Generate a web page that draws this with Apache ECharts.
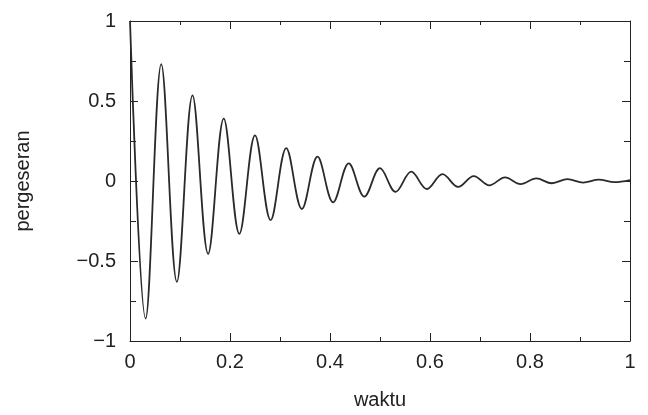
<!DOCTYPE html>
<html>
<head>
<meta charset="utf-8">
<script src="https://cdn.jsdelivr.net/npm/echarts@6/dist/echarts.min.js"></script>
<style>
  html, body { margin: 0; padding: 0; background: #fff; }
  #chart { width: 648px; height: 415px; }
</style>
</head>
<body>
<div id="chart"></div>
<script>
// peaks and troughs of the damped oscillation
const peakTimes = [0, 0.03125, 0.0625, 0.09375, 0.125, 0.15625, 0.1875, 0.21875, 0.25, 0.28125,
  0.3125, 0.34375, 0.375, 0.40625, 0.4375, 0.46875, 0.5, 0.53125, 0.5625, 0.59375,
  0.625, 0.65625, 0.6875, 0.71875, 0.75, 0.78125, 0.8125, 0.84375, 0.875, 0.90625,
  0.9375, 0.96875, 1];
const peakValues = [1.0, -0.86, 0.73, -0.63, 0.535, -0.455, 0.39, -0.33, 0.285, -0.245,
  0.205, -0.175, 0.152, -0.133, 0.11, -0.098, 0.08, -0.068, 0.058, -0.05,
  0.043, -0.037, 0.031, -0.027, 0.023, -0.019, 0.016, -0.014, 0.012, -0.01,
  0.008, -0.007, 0.006];

const xTicks = ["0", "0.2", "0.4", "0.6", "0.8", "1"];
const yTicks = ["\u22121", "\u22120.5", "0", "0.5", "1"];

const points = peakTimes.map((t, i) => [t, peakValues[i]]);

const chart = echarts.init(document.getElementById("chart"));

const frame = { show: true, onZero: false, lineStyle: { color: "#222", width: 1 } };
const labelFont = { color: "#222", fontSize: 20, fontFamily: "Liberation Sans, Arial, sans-serif" };

function xLabel(v) {
  return xTicks[Math.round(v / 0.2)];
}
function yLabel(v) {
  return yTicks[Math.round((v + 1) / 0.5)];
}

chart.setOption({
  animation: false,
  grid: { left: 130, right: 18, top: 21, bottom: 74 },
  xAxis: [
    {
      type: "value",
      min: 0,
      max: 1,
      interval: 0.2,
      name: "waktu",
      nameLocation: "middle",
      nameGap: 49,
      nameTextStyle: labelFont,
      axisLine: frame,
      axisTick: { inside: true, length: 8, lineStyle: { color: "#222" } },
      minorTick: { show: true, splitNumber: 2, length: 4, lineStyle: { color: "#222" } },
      axisLabel: Object.assign({ margin: 11, formatter: xLabel }, labelFont),
      splitLine: { show: false },
    },
    {
      type: "value",
      position: "top",
      min: 0,
      max: 1,
      interval: 0.2,
      axisLine: frame,
      axisTick: { inside: true, length: 8, lineStyle: { color: "#222" } },
      minorTick: { show: true, splitNumber: 2, length: 4, lineStyle: { color: "#222" } },
      axisLabel: { show: false },
      splitLine: { show: false },
    },
  ],
  yAxis: [
    {
      type: "value",
      min: -1,
      max: 1,
      interval: 0.5,
      name: "pergeseran",
      nameLocation: "middle",
      nameGap: 97,
      nameTextStyle: labelFont,
      axisLine: frame,
      axisTick: { inside: true, length: 8, lineStyle: { color: "#222" } },
      minorTick: { show: true, splitNumber: 2, length: 6, lineStyle: { color: "#222" } },
      axisLabel: Object.assign({ margin: 14, formatter: yLabel }, labelFont),
      splitLine: { show: false },
    },
    {
      type: "value",
      position: "right",
      min: -1,
      max: 1,
      interval: 0.5,
      axisLine: frame,
      axisTick: { inside: true, length: 8, lineStyle: { color: "#222" } },
      minorTick: { show: true, splitNumber: 2, length: 6, lineStyle: { color: "#222" } },
      axisLabel: { show: false },
      splitLine: { show: false },
    },
  ],
  series: [
    {
      type: "line",
      data: points,
      smooth: 0.36,
      symbol: "none",
      lineStyle: { color: "#2a2a2a", width: 1.8 },
    },
  ],
});
</script>
</body>
</html>
